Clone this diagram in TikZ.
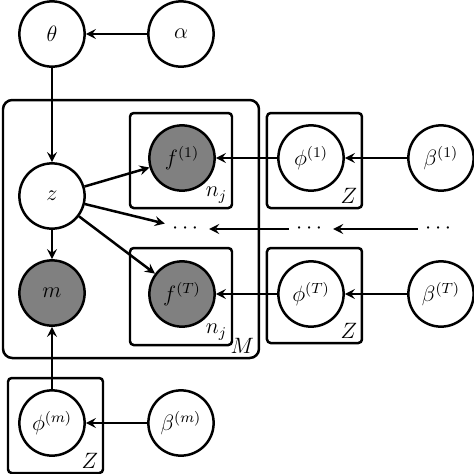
\documentclass[tikz,border=0pt]{standalone}
\usepackage{amsmath, amssymb}
\usepackage{tikz}

\begin{document}
\begin{tikzpicture}[>=stealth, x=0.019cm, y=-0.019cm, line width=1.35pt,
  font=\large,
  var/.style={circle, draw, minimum size=1.24cm, inner sep=0pt},
  obs/.style={var, fill=gray},
  plate/.style={draw, rounded corners=2pt},
  platelabel/.style={anchor=south east, inner sep=2pt}]
\useasboundingbox (0,0) rectangle (474,474);
% plates
\draw[plate, rounded corners=5pt] (3,100) rectangle (259,358);
\draw[plate] (130,113) rectangle (232,208);
\draw[plate] (130,248) rectangle (232,345);
\draw[plate] (267,113) rectangle (362,208);
\draw[plate] (267,248) rectangle (362,343);
\draw[plate] (8,378) rectangle (103,473);
\node[platelabel] (M) at (259,358) {$M$};
\node[platelabel] (nj1) at (232,208) {$n_j$};
\node[platelabel] (nj2) at (232,345) {$n_j$};
\node[platelabel] (Z1) at (362,208) {$Z$};
\node[platelabel] (Z2) at (362,343) {$Z$};
\node[platelabel] (Z3) at (103,473) {$Z$};
% nodes
\node[var] (theta) at (52,34) {$\theta$};
\node[var] (alpha) at (181,34) {$\alpha$};
\node[var] (z) at (52,196) {$z$};
\node[obs] (m) at (52,293) {$m$};
\node[obs] (f1) at (182,158) {$f^{(1)}$};
\node[obs] (fT) at (182,294) {$f^{(T)}$};
\node (dots) at (187,229) {$\cdots$};
\node[var] (phi1) at (311,158) {$\phi^{(1)}$};
\node (phidots) at (311,229) {$\cdots$};
\node[var] (phiT) at (311,294) {$\phi^{(T)}$};
\node[var] (beta1) at (441,158) {$\beta^{(1)}$};
\node (betadots) at (440,229) {$\cdots$};
\node[var] (betaT) at (441,294) {$\beta^{(T)}$};
\node[var] (phim) at (52,423) {$\phi^{(m)}$};
\node[var] (betam) at (181,423) {$\beta^{(m)}$};
% edges
\draw[->] (alpha) -- (theta);
\draw[->] (theta) -- (z);
\draw[->] (z) -- (m);
\draw[->] (z) -- (f1);
\draw[->] (z) -- (dots);
\draw[->] (z) -- (fT);
\draw[->] (phi1) -- (f1);
\draw[->] (phidots) -- (dots);
\draw[->] (phiT) -- (fT);
\draw[->] (beta1) -- (phi1);
\draw[->] (betadots) -- (phidots);
\draw[->] (betaT) -- (phiT);
\draw[->] (betam) -- (phim);
\draw[->] (phim) -- (m);
\end{tikzpicture}
\end{document}
